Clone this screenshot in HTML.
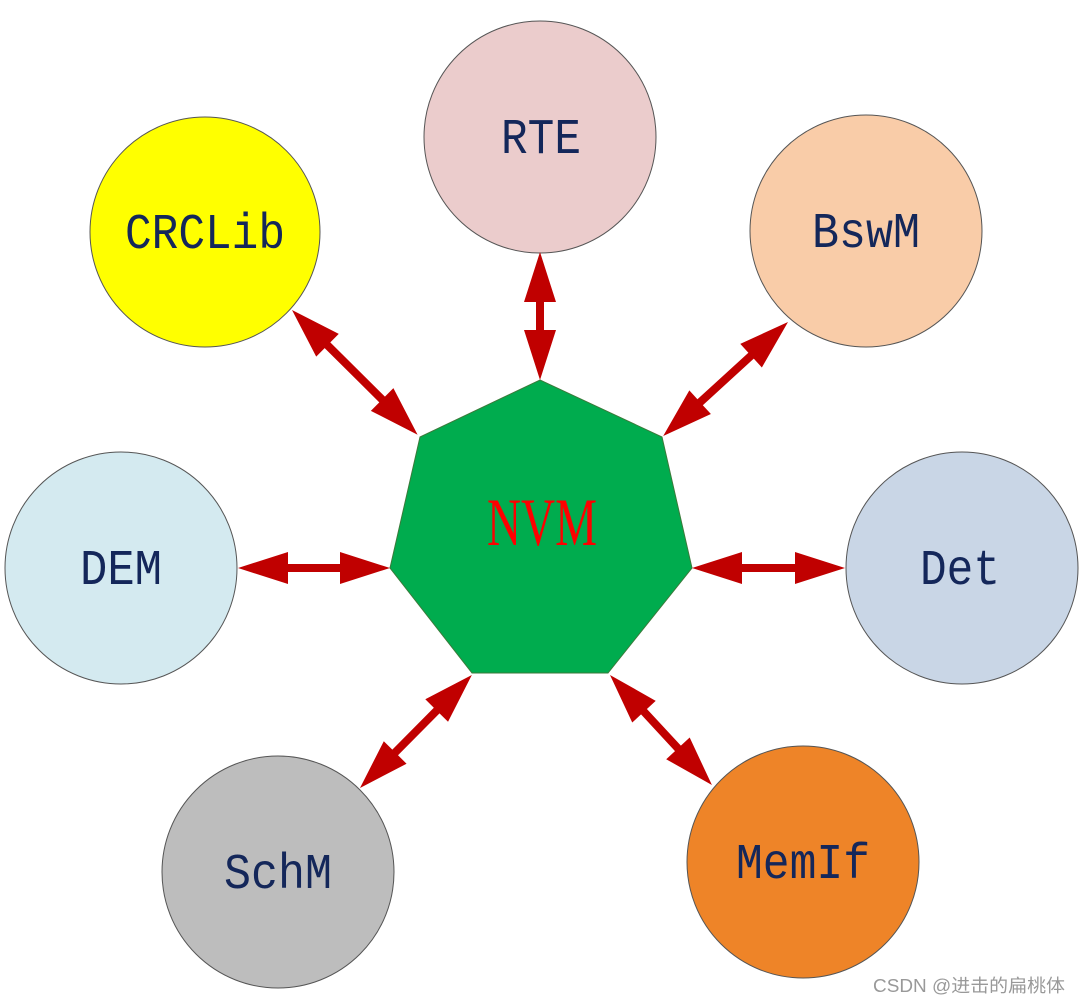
<!DOCTYPE html>
<html><head><meta charset="utf-8"><style>html,body{margin:0;padding:0;background:#fff}svg{display:block}</style></head>
<body>
<svg width="1080" height="1004" viewBox="0 0 1080 1004" xmlns="http://www.w3.org/2000/svg">
<g stroke="#555" stroke-width="1">
<circle cx="540" cy="137" r="116" fill="#ebcccc"/>
<circle cx="205" cy="232" r="115" fill="#ffff00"/>
<circle cx="866" cy="231" r="116" fill="#f9cca8"/>
<circle cx="121" cy="568" r="116" fill="#d4eaf0"/>
<circle cx="962" cy="568" r="116" fill="#c9d6e6"/>
<circle cx="278" cy="872" r="116" fill="#bdbdbd"/>
<circle cx="803" cy="862" r="116" fill="#ee8428"/>
</g>
<polygon points="540,380 662,437 692,568 608,673 472,673 390,568 420,437" fill="#00ac4e" stroke="#3a7a3a" stroke-width="1"/>
<g fill="#c00000">
<polygon transform="translate(238,568)" points="0,0 50,-16 50,-4 102,-4 102,-16 152,0 102,16 102,4 50,4 50,16"/>
<polygon transform="translate(692,568)" points="0,0 50,-16 50,-4 103,-4 103,-16 153,0 103,16 103,4 50,4 50,16"/>
<polygon transform="translate(540,252) rotate(90)" points="0,0 50,-16 50,-4 78,-4 78,-16 128,0 78,16 78,4 50,4 50,16"/>
<polygon transform="translate(292,310) rotate(44.8)" points="0,0 50,-16 50,-4 127,-4 127,-16 177,0 127,16 127,4 50,4 50,16"/>
<polygon transform="translate(788,322) rotate(137.6)" points="0,0 50,-16 50,-4 119,-4 119,-16 169,0 119,16 119,4 50,4 50,16"/>
<polygon transform="translate(360,788) rotate(-45.3)" points="0,0 50,-16 50,-4 109,-4 109,-16 159,0 109,16 109,4 50,4 50,16"/>
<polygon transform="translate(610,675) rotate(47.2)" points="0,0 50,-16 50,-4 100,-4 100,-16 150,0 100,16 100,4 50,4 50,16"/>
</g>
<g font-family="Liberation Mono, monospace" font-size="50" fill="#14275a">
<text x="501" y="153" textLength="80" lengthAdjust="spacingAndGlyphs">RTE</text>
<text x="125" y="248" textLength="160" lengthAdjust="spacingAndGlyphs">CRCLib</text>
<text x="812" y="247" textLength="108" lengthAdjust="spacingAndGlyphs">BswM</text>
<text x="80" y="584" textLength="82" lengthAdjust="spacingAndGlyphs">DEM</text>
<text x="920" y="584" textLength="80" lengthAdjust="spacingAndGlyphs">Det</text>
<text x="224" y="888" textLength="108" lengthAdjust="spacingAndGlyphs">SchM</text>
<text x="736" y="878" textLength="134" lengthAdjust="spacingAndGlyphs">MemIf</text>
</g>
<text x="487" y="545" font-family="Liberation Serif, serif" font-size="68" fill="#ff0000" textLength="110" lengthAdjust="spacingAndGlyphs">NVM</text>
<text x="873" y="992" font-family="Liberation Sans, 'Noto Sans CJK SC', sans-serif" font-size="18" fill="#999" textLength="192" lengthAdjust="spacingAndGlyphs">CSDN @进击的扁桃体</text>
</svg>
</body></html>
